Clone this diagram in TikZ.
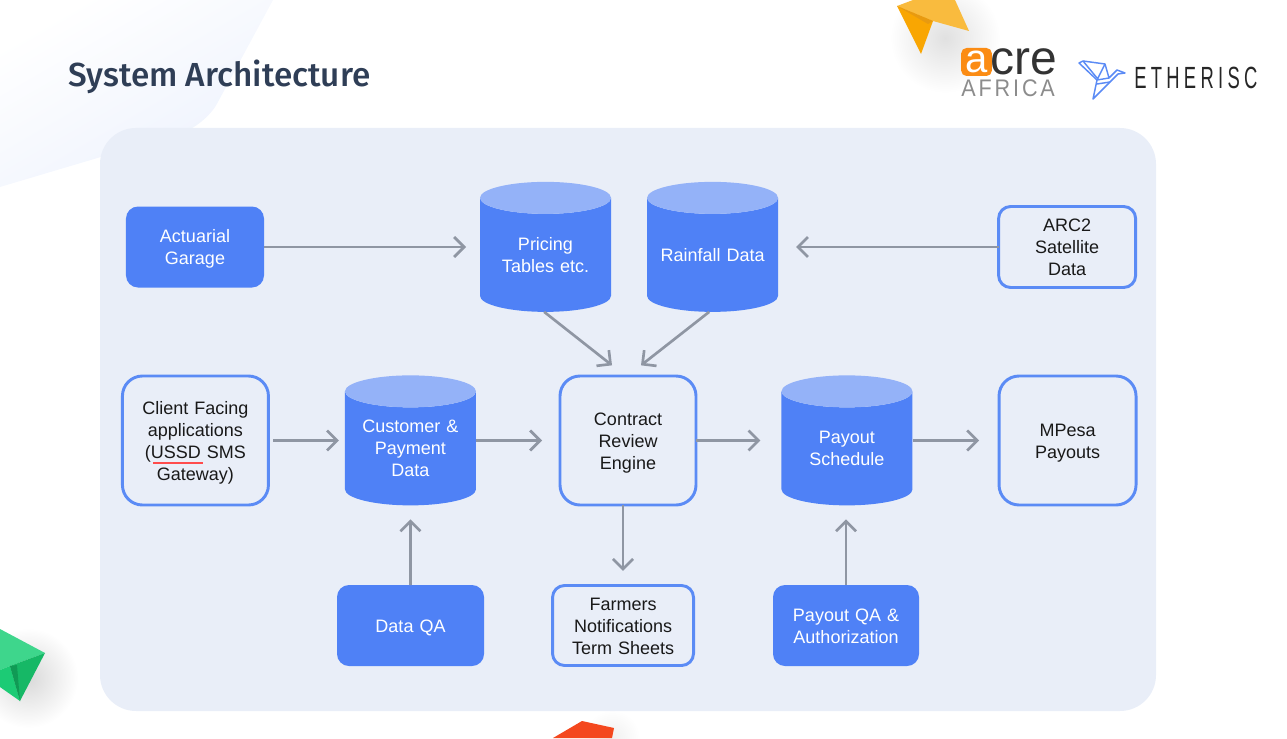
\documentclass[tikz,border=0pt]{standalone}
\usepackage{fontspec}
\usepackage{xcolor}
\usetikzlibrary{arrows.meta,shapes.geometric,positioning}
\setmainfont{Liberation Sans}
\newfontfamily\titlefont{Fira Sans Medium}
\newfontfamily\africafont[FakeStretch=0.9,LetterSpace=12]{Liberation Sans}
\newfontfamily\etherfont[FakeStretch=0.6,LetterSpace=14]{Liberation Sans}
\definecolor{panelbg}{HTML}{E9EEF8}
\definecolor{blobbg}{HTML}{EDF2FD}
\definecolor{mainblue}{HTML}{4F81F6}
\definecolor{lightblue}{HTML}{94B2F8}
\definecolor{edgeblue}{HTML}{5B8BF5}
\definecolor{linegray}{HTML}{8F96A3}
\definecolor{titleink}{HTML}{2F3E56}
\definecolor{foldyellow}{HTML}{F9BB3E}
\definecolor{foldorange}{HTML}{F9A602}
\definecolor{foldcrease}{HTML}{E89A10}
\definecolor{foldgreena}{HTML}{3ED68C}
\definecolor{foldgreenb}{HTML}{16B866}
\definecolor{foldgreenc}{HTML}{1CCB75}
\definecolor{foldgreend}{HTML}{109A55}
\definecolor{foldred}{HTML}{F4481E}
\definecolor{acreorange}{HTML}{FB8C14}

\begin{document}
\begin{tikzpicture}[
        x=0.75pt, y=-0.75pt,
        textdrop/.code={\def\boxdrop{#1}},
        solidbox/.style={rectangle, fill=mainblue, text=white, text width=90pt, text centered,
                      rounded corners=9pt, outer sep=0pt, textdrop=13pt,
                      execute at begin node={\rule{0pt}{\boxdrop}},
                      font=\fontsize{13.5}{16.5}\selectfont},
        openbox/.style={rectangle, draw=edgeblue, line width=2.2pt, text=black!90, text width=90pt,
                      text centered, rounded corners=15pt, outer sep=0pt, textdrop=14pt,
                      execute at begin node={\rule{0pt}{\boxdrop}},
                      font=\fontsize{13.5}{16.5}\selectfont},
        datastore/.style={cylinder, shape border rotate=90, aspect=0.3, cylinder uses custom fill,
                      cylinder body fill=mainblue, cylinder end fill=lightblue, text=white,
                      minimum width=98.25pt, minimum height=97.5pt, text width=80pt, text centered,
                      outer sep=0pt, inner sep=0pt, font=\fontsize{13.5}{16.5}\selectfont},
        line/.style={draw=linegray, line width=2pt, -{Straight Barb[length=7.5pt,width=15pt,line width=2pt]}},
        birdline/.style={draw=edgeblue, line width=1.1pt, line join=round}
    ]
    \useasboundingbox (0,0) rectangle (1287,738);

    % Backdrop
    \shade[top color=white, bottom color=blobbg, shading angle=30]
        (0,187) -- (0,0) -- (273,0) [rounded corners=19pt] -- (205,126) [sharp corners] -- cycle;
    \shade[inner color=black!12, outer color=white] (945,38) circle (55);
    \shade[inner color=black!15, outer color=white] (28,678) circle (50);
    \shade[inner color=black!6, outer color=white] (612,738) circle (28);
    \fill[panelbg, rounded corners=27pt] (100,128) rectangle (1156,711);

    % Folded paper corners
    \fill[foldyellow] (897,6) -- (913,0) -- (955,0) -- (969,31) -- (933,21) -- cycle;
    \fill[foldorange] (897,6) -- (933,21) -- (921,54) -- cycle;
    \fill[foldcrease] (897,6) -- (933,21) -- (928,24) -- cycle;
    \fill[foldgreena] (0,629) -- (45,653) -- (10,666) -- (0,670) -- cycle;
    \fill[foldgreenb] (45,653) -- (10,666) -- (20,701) -- cycle;
    \fill[foldgreenc] (0,670) -- (10,666) -- (20,701) -- (0,687) -- cycle;
    \fill[foldgreend] (10,666) -- (17,665) -- (20,701) -- cycle;
    \fill[foldred] (582,721) -- (614,728) -- (612,738) -- (553,738) -- cycle;

    \node[anchor=west, inner sep=0pt, text=titleink, font=\titlefont\fontsize{25}{28}\selectfont] (title) at (68,77) {System Architecture};

    % Logos
    \node[fill=acreorange, rounded corners=4pt, minimum width=23pt, minimum height=21pt, inner sep=0pt,
          text=white, font=\fontsize{30}{30}\selectfont] (acrea) at (976.5,62) {a};
    \node[anchor=base west, inner sep=0pt, text=black!80, font=\fontsize{36}{36}\selectfont] (acre) at (990,75) {cre};
    \node[anchor=base west, inner sep=0pt, text=black!45, font=\africafont\fontsize{18}{18}\selectfont] (africa) at (961,97) {AFRICA};
    \node[anchor=base west, inner sep=0pt, text=black!85, font=\etherfont\fontsize{23}{23}\selectfont] (ether) at (1134,89) {ETHERISC};
    \draw[birdline] (1079,63) -- (1083,61) -- (1105,64) -- (1109,78) -- (1117,70) -- (1125,73) -- (1118,74) -- (1110,82) -- (1093,99) -- (1097,80) -- cycle;
    \draw[birdline] (1083,61) -- (1097,78) (1105,64) -- (1097,80) -- (1109,78) (1097,84) -- (1110,82);

    % Middle row
    \node[openbox, minimum width=102pt, minimum height=96.75pt] (engine) at (628,440.5) {Contract\\Review\\Engine};
    \node[datastore, left=63pt of engine, yshift=-6pt] (customer) {Customer \&\\Payment\\Data};
    \node[openbox, minimum width=109.5pt, minimum height=96.75pt, left=57.4pt of customer, yshift=6pt] (client) {Client Facing\\applications\\(USSD SMS\\Gateway)};
    \node[datastore, right=64.1pt of engine, yshift=-6pt] (schedule) {Payout\\Schedule};
    \node[openbox, minimum width=102.75pt, minimum height=96.75pt, right=64.9pt of schedule, yshift=6pt] (mpesa) {MPesa\\Payouts};

    % Top row
    \node[datastore] (pricing) at (545.5,255) {Pricing\\Tables etc.};
    \node[datastore, right=27pt of pricing] (rainfall) {Rainfall Data};
    \node[solidbox, minimum width=103.5pt, minimum height=60.75pt, left=162pt of pricing, yshift=6pt] (garage) {Actuarial\\Garage};
    \node[openbox, rounded corners=9pt, textdrop=10pt, minimum width=102.75pt, minimum height=60.75pt, right=165.4pt of rainfall, yshift=6pt] (arc) {ARC2\\Satellite\\Data};

    % Bottom row
    \node[solidbox, minimum width=110.25pt, minimum height=60.75pt] (dataqa) at (410.5,625.5) {Data QA};
    \node[openbox, rounded corners=9pt, textdrop=11pt, minimum width=105.75pt, minimum height=60pt, right=51.4pt of dataqa] (farmers) {Farmers\\Notifications\\Term Sheets};
    \node[solidbox, textdrop=11pt, minimum width=109.5pt, minimum height=60.75pt, right=59.6pt of farmers] (payoutqa) {Payout QA \&\\Authorization};

    \draw [line, shorten >=10.5pt] (garage) -- (garage -| pricing.west);
    \draw [line, shorten >=13.5pt] (arc) -- (arc -| rainfall.east);
    \draw [line] ([xshift=-1pt]pricing.south) -- ([shift={(-12pt,8pt)}]engine.north);
    \draw [line] ([xshift=-2.5pt]rainfall.south) -- ([shift={(9.75pt,8pt)}]engine.north);
    \draw [line, shorten <=3.5pt, shorten >=4.5pt] (client) -- (client -| customer.west);
    \draw [line, shorten >=13.5pt] (engine -| customer.east) -- (engine);
    \draw [line, shorten >=15.75pt] (engine) -- (engine -| schedule.west);
    \draw [line, shorten >=15pt] (mpesa -| schedule.east) -- (mpesa);
    \draw [line, shorten >=10.5pt] (dataqa) -- (customer.south);
    \draw [line, shorten >=11pt] (engine.south -| farmers) -- (farmers);
    \draw [line, shorten >=10.5pt] (payoutqa) -- (payoutqa |- schedule.south);

    % Spell check mark
    \draw[red!70!white, line width=1.2pt] (153,463) -- (203,463);
\end{tikzpicture}
\end{document}
